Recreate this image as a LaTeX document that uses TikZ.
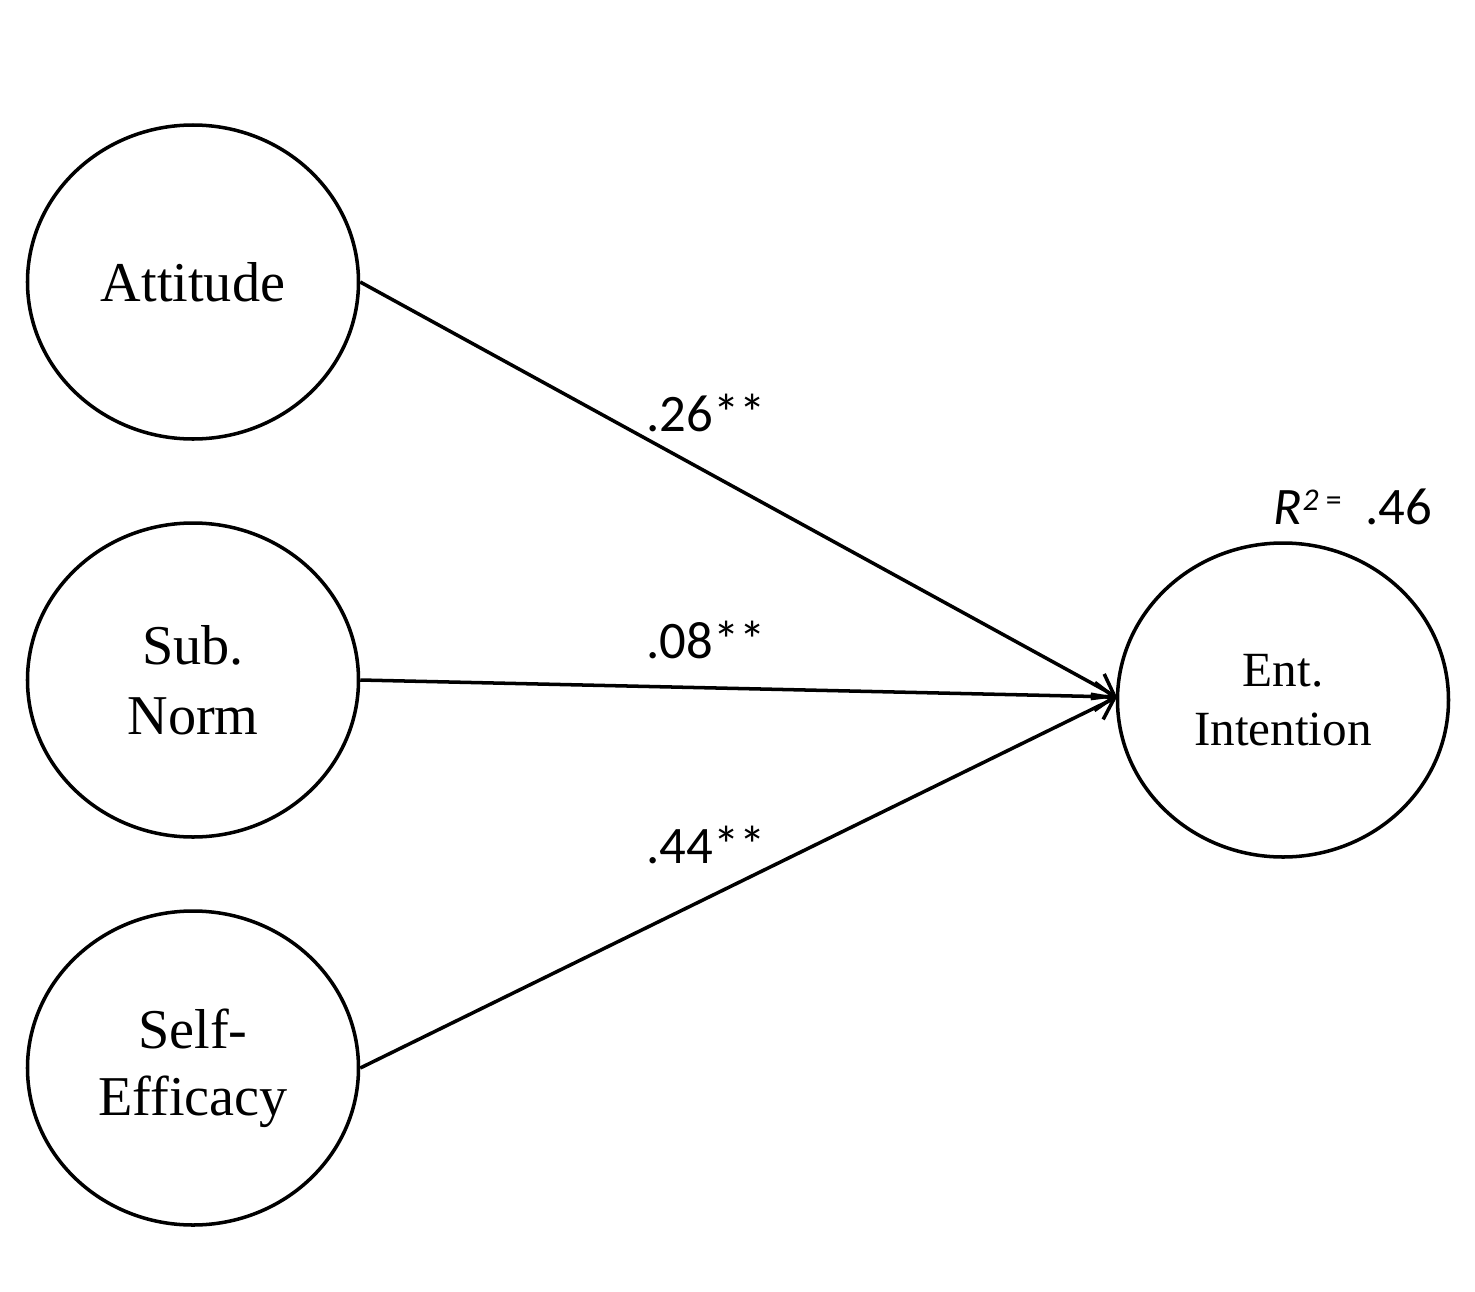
\documentclass[tikz,border=0pt]{standalone}
\usepackage{fontspec}
\setmainfont{Liberation Serif}
\newfontfamily\lab{Carlito}
\usetikzlibrary{shapes.geometric,arrows.meta}
\begin{document}
\begin{tikzpicture}[x=0.02cm,y=-0.02cm,
  circ/.style={draw,line width=2pt,ellipse,minimum width=331*0.02cm,minimum height=314*0.02cm,align=center,font=\fontsize{32}{36}\selectfont,inner sep=0pt},
  lbl/.style={font=\lab\fontsize{30}{34}\selectfont},
  conn/.style={line width=2pt,-{Straight Barb[length=11pt,width=16pt]}}]
\useasboundingbox (0,0) rectangle (1475,1292);
\node[circ] (att) at (193,282) {Attitude};
\node[circ] (sub) at (193,680) {Sub.\\[4pt]Norm};
\node[circ] (self) at (193,1068) {Self-\\[2pt]Efficacy};
\node[circ] (ent) at (1283,700) {\fontsize{28}{32}\selectfont Ent.\\[-2pt]\fontsize{28}{32}\selectfont Intention};
\coordinate (tip) at (1117,697);
\draw[conn] (att.east) -- (tip);
\draw[conn] (sub.east) -- (tip);
\draw[conn] (self.east) -- (tip);
\node[lbl] (l1) at (706,413) {.26**};
\node[lbl] (l2) at (706,640) {.08**};
\node[lbl] (l3) at (706,845) {.44**};
\node[lbl] (r2) at (1353,507) {\textit{R}\raisebox{8pt}{\fontsize{18}{20}\selectfont\textit{2} =}\ \ .46};
\end{tikzpicture}
\end{document}
